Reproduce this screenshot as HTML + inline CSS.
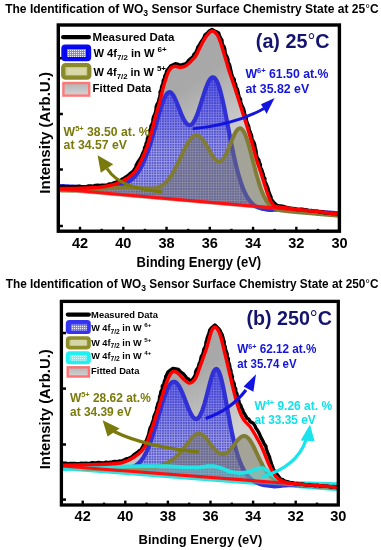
<!DOCTYPE html>
<html><head><meta charset="utf-8"><style>
html,body{margin:0;padding:0;background:#fff;}
svg{display:block;}
text{font-family:"Liberation Sans",Arial,sans-serif;font-weight:bold;}
</style></head><body>
<svg width="381" height="550" viewBox="0 0 381 550">
<defs>
<pattern id="gridA" width="2.6" height="2.6" patternUnits="userSpaceOnUse">
<rect width="2.6" height="2.6" fill="#a0a0ec"/>
<rect x="0.8" y="0.8" width="1.8" height="1.8" fill="#5858c6"/>
</pattern>
<linearGradient id="btA" gradientUnits="userSpaceOnUse" x1="0" y1="80" x2="0" y2="150">
<stop offset="0" stop-color="#1e1ee0" stop-opacity="0.5"/><stop offset="1" stop-color="#1e1ee0" stop-opacity="0"/>
</linearGradient>
<linearGradient id="btB" gradientUnits="userSpaceOnUse" x1="0" y1="370" x2="0" y2="440">
<stop offset="0" stop-color="#1e1ee0" stop-opacity="0.5"/><stop offset="1" stop-color="#1e1ee0" stop-opacity="0"/>
</linearGradient>
<pattern id="dots" width="2" height="2" patternUnits="userSpaceOnUse">
<rect width="2" height="2" fill="#7a7aff"/>
<rect width="1.1" height="1.1" fill="#eeeeff"/>
</pattern>
<pattern id="cdots" width="2" height="2" patternUnits="userSpaceOnUse">
<rect width="2" height="2" fill="#70f0f0"/>
<rect width="1.1" height="1.1" fill="#d8ffff"/>
</pattern>
<linearGradient id="grayg" x1="0" y1="0" x2="0" y2="1">
<stop offset="0" stop-color="#b4b4b4"/><stop offset="1" stop-color="#d4d4d4"/>
</linearGradient>
<linearGradient id="gA" gradientUnits="userSpaceOnUse" x1="212" y1="70" x2="250" y2="125">
<stop offset="0" stop-color="#a8a8a8"/><stop offset="1" stop-color="#d0d0d0"/>
</linearGradient>
<linearGradient id="gB" gradientUnits="userSpaceOnUse" x1="215" y1="360" x2="250" y2="420">
<stop offset="0" stop-color="#a8a8a8"/><stop offset="1" stop-color="#d0d0d0"/>
</linearGradient>
<clipPath id="clipA"><rect x="58.3" y="25" width="281.1" height="206.2"/></clipPath>
<clipPath id="clipB"><rect x="61.4" y="301.4" width="276.9" height="203.6"/></clipPath>
</defs>

<text x="5.2" y="13.4" font-size="12" textLength="373.5" lengthAdjust="spacingAndGlyphs">The Identification of WO<tspan font-size="8.6" dy="3">3</tspan><tspan dy="-3"> Sensor Surface Chemistry State at 25<tspan font-weight="normal">°</tspan>C</tspan></text>
<text x="5.8" y="288.3" font-size="11.9" textLength="372.8" lengthAdjust="spacingAndGlyphs">The Identification of WO<tspan font-size="8.6" dy="3">3</tspan><tspan dy="-3"> Sensor Surface Chemistry State at 250<tspan font-weight="normal">°</tspan>C</tspan></text>
<g clip-path="url(#clipA)"><path d="M58.3 188.6C61.92 188.53 73.05 188.43 80 188.2C86.95 187.97 95 187.65 100 187.2C105 186.75 106.67 186.33 110 185.5C113.33 184.67 117.17 183.37 120 182.2C122.83 181.03 124.55 180.2 127 178.5C129.45 176.8 132.28 175.08 134.7 172C137.12 168.92 139.4 164.33 141.5 160C143.6 155.67 145.67 150.5 147.3 146C148.93 141.5 150.08 137.33 151.3 133C152.52 128.67 153.58 123.83 154.6 120C155.62 116.17 156.57 112.92 157.4 110C158.23 107.08 158.73 105.83 159.6 102.5C160.47 99.17 161.57 93.9 162.6 90C163.63 86.1 164.83 82.13 165.8 79.1C166.77 76.07 167.45 73.72 168.4 71.8C169.35 69.88 170.28 68.52 171.5 67.6C172.72 66.68 174.28 66.35 175.7 66.3C177.12 66.25 178.6 67.23 180 67.3C181.4 67.37 182.72 67.25 184.1 66.7C185.48 66.15 186.9 65.17 188.3 64C189.7 62.83 191.27 61.03 192.5 59.7C193.73 58.37 194.7 57.53 195.7 56C196.7 54.47 197.45 52.58 198.5 50.5C199.55 48.42 200.67 45.92 202 43.5C203.33 41.08 204.83 38.08 206.5 36C208.17 33.92 210.25 31.25 212 31C213.75 30.75 215.67 32.83 217 34.5C218.33 36.17 219.02 38.42 220 41C220.98 43.58 221.92 46.83 222.9 50C223.88 53.17 224.92 56.67 225.9 60C226.88 63.33 227.75 66.67 228.8 70C229.85 73.33 231.08 76.67 232.2 80C233.32 83.33 234.42 86.67 235.5 90C236.58 93.33 237.52 96.25 238.7 100C239.88 103.75 241.28 108.33 242.6 112.5C243.92 116.67 244.92 119.5 246.6 125C248.28 130.5 251 139.58 252.7 145.5C254.4 151.42 255.43 155.97 256.8 160.5C258.17 165.03 259.65 168.83 260.9 172.7C262.15 176.57 263.2 180.23 264.3 183.7C265.4 187.17 266.55 190.78 267.5 193.5C268.45 196.22 269.12 198.22 270 200C270.88 201.78 271.8 203.12 272.8 204.2C273.8 205.28 271.47 205.6 276 206.5C280.53 207.4 292.67 208.7 300 209.6C307.33 210.5 313.43 211.13 320 211.9C326.57 212.67 336.17 213.82 339.4 214.2L339.4 213.62 L58.3 189.03 Z" fill="url(#gA)"/>
<path d="M58.3 185.86L59.3 185.92L60.3 185.98L61.3 186.04L62.3 186.1L63.3 186.15L64.3 186.21L65.3 186.27L66.3 186.32L67.3 186.38L68.3 186.43L69.3 186.48L70.3 186.53L71.3 186.58L72.3 186.63L73.3 186.68L74.3 186.72L75.3 186.77L76.3 186.81L77.3 186.85L78.3 186.89L79.3 186.93L80.3 186.97L81.3 187L82.3 187.04L83.3 187.07L84.3 187.1L85.3 187.13L86.3 187.15L87.3 187.17L88.3 187.19L89.3 187.21L90.3 187.23L91.3 187.24L92.3 187.25L93.3 187.26L94.3 187.26L95.3 187.26L96.3 187.26L97.3 187.25L98.3 187.24L99.3 187.22L100.3 187.2L101.3 187.18L102.3 187.15L103.3 187.11L104.3 187.07L105.3 187.03L106.3 186.97L107.3 186.91L108.3 186.85L109.3 186.77L110.3 186.68L111.3 186.59L112.3 186.48L113.3 186.36L114.3 186.23L115.3 186.08L116.3 185.92L117.3 185.74L118.3 185.53L119.3 185.31L120.3 185.06L121.3 184.78L122.3 184.48L123.3 184.14L124.3 183.76L125.3 183.34L126.3 182.87L127.3 182.36L128.3 181.78L129.3 181.15L130.3 180.46L131.3 179.69L132.3 178.84L133.3 177.91L134.3 176.89L135.3 175.77L136.3 174.55L137.3 173.22L138.3 171.77L139.3 170.21L140.3 168.51L141.3 166.69L142.3 164.73L143.3 162.63L144.3 160.39L145.3 158.01L146.3 155.48L147.3 152.82L148.3 150.01L149.3 147.07L150.3 144L151.3 140.81L152.3 137.51L153.3 134.12L154.3 130.65L155.3 127.13L156.3 123.57L157.3 120.02L158.3 116.49L159.3 113.03L160.3 109.68L161.3 106.48L162.3 103.49L163.3 100.75L164.3 98.32L165.3 96.24L166.3 94.55L167.3 93.3L168.3 92.51L169.3 92.19L170.3 92.34L171.3 92.95L172.3 93.99L173.3 95.42L174.3 97.2L175.3 99.26L176.3 101.54L177.3 103.99L178.3 106.52L179.3 109.09L180.3 111.62L181.3 114.07L182.3 116.37L183.3 118.48L184.3 120.37L185.3 121.98L186.3 123.29L187.3 124.28L188.3 124.91L189.3 125.18L190.3 125.07L191.3 124.58L192.3 123.71L193.3 122.47L194.3 120.87L195.3 118.93L196.3 116.68L197.3 114.15L198.3 111.38L199.3 108.41L200.3 105.32L201.3 102.16L202.3 98.97L203.3 95.79L204.3 92.69L205.3 89.73L206.3 86.96L207.3 84.45L208.3 82.24L209.3 80.39L210.3 78.94L211.3 77.92L212.3 77.38L213.3 77.33L214.3 77.79L215.3 78.76L216.3 80.25L217.3 82.24L218.3 84.72L219.3 87.67L220.3 91.04L221.3 94.81L222.3 98.93L223.3 103.35L224.3 108.03L225.3 112.91L226.3 117.94L227.3 123.07L228.3 128.25L229.3 133.43L230.3 138.57L231.3 143.62L232.3 148.54L233.3 153.32L234.3 157.9L235.3 162.28L236.3 166.43L237.3 170.35L238.3 174.02L239.3 177.43L240.3 180.63L241.3 183.68L242.3 186.49L243.3 189.06L244.3 191.4L245.3 193.53L246.3 195.46L247.3 197.21L248.3 198.78L249.3 200.2L250.3 201.47L251.3 202.62L252.3 203.66L253.3 204.59L254.3 205.43L255.3 206.13L256.3 206.63L257.3 207.06L258.3 207.45L259.3 207.79L260.3 208.09L261.3 208.36L262.3 208.61L263.3 208.83L264.3 209.04L265.3 209.22L266.3 209.4L267.3 209.57L268.3 209.72L269.3 209.87L270.3 209.96L271.3 209.89L272.3 209.83L273.3 209.76L274.3 209.69L275.3 209.61L276.3 209.54L277.3 209.46L278.3 209.38L279.3 209.3L280.3 209.22L281.3 209.14L282.3 209.05L283.3 208.97L284.3 208.88L285.3 208.85L286.3 208.94L287.3 209.04L288.3 209.13L289.3 209.22L290.3 209.32L291.3 209.41L292.3 209.5L293.3 209.59L294.3 209.68L295.3 209.77L296.3 209.86L297.3 209.95L298.3 210.04L299.3 210.12L300.3 210.21L301.3 210.3L302.3 210.39L303.3 210.47L304.3 210.56L305.3 210.64L306.3 210.73L307.3 210.81L308.3 210.9L309.3 210.98L310.3 211.07L311.3 211.15L312.3 211.23L313.3 211.31L314.3 211.4L315.3 211.48L316.3 211.56L317.3 211.64L318.3 211.73L319.3 211.81L320.3 211.89L321.3 211.97L322.3 212.05L323.3 212.13L324.3 212.21L325.3 212.29L326.3 212.37L327.3 212.45L328.3 212.53L329.3 212.61L330.3 212.69L331.3 212.77L332.3 212.85L333.3 212.92L334.3 213L335.3 213.08L336.3 213.16L337.3 213.24L338.3 213.31L339.3 213.39L339.4 214.12L58.3 187.53Z" fill="url(#gridA)"/>
<path d="M58.3 185.86L59.3 185.92L60.3 185.98L61.3 186.04L62.3 186.1L63.3 186.15L64.3 186.21L65.3 186.27L66.3 186.32L67.3 186.38L68.3 186.43L69.3 186.48L70.3 186.53L71.3 186.58L72.3 186.63L73.3 186.68L74.3 186.72L75.3 186.77L76.3 186.81L77.3 186.85L78.3 186.89L79.3 186.93L80.3 186.97L81.3 187L82.3 187.04L83.3 187.07L84.3 187.1L85.3 187.13L86.3 187.15L87.3 187.17L88.3 187.19L89.3 187.21L90.3 187.23L91.3 187.24L92.3 187.25L93.3 187.26L94.3 187.26L95.3 187.26L96.3 187.26L97.3 187.25L98.3 187.24L99.3 187.22L100.3 187.2L101.3 187.18L102.3 187.15L103.3 187.11L104.3 187.07L105.3 187.03L106.3 186.97L107.3 186.91L108.3 186.85L109.3 186.77L110.3 186.68L111.3 186.59L112.3 186.48L113.3 186.36L114.3 186.23L115.3 186.08L116.3 185.92L117.3 185.74L118.3 185.53L119.3 185.31L120.3 185.06L121.3 184.78L122.3 184.48L123.3 184.14L124.3 183.76L125.3 183.34L126.3 182.87L127.3 182.36L128.3 181.78L129.3 181.15L130.3 180.46L131.3 179.69L132.3 178.84L133.3 177.91L134.3 176.89L135.3 175.77L136.3 174.55L137.3 173.22L138.3 171.77L139.3 170.21L140.3 168.51L141.3 166.69L142.3 164.73L143.3 162.63L144.3 160.39L145.3 158.01L146.3 155.48L147.3 152.82L148.3 150.01L149.3 147.07L150.3 144L151.3 140.81L152.3 137.51L153.3 134.12L154.3 130.65L155.3 127.13L156.3 123.57L157.3 120.02L158.3 116.49L159.3 113.03L160.3 109.68L161.3 106.48L162.3 103.49L163.3 100.75L164.3 98.32L165.3 96.24L166.3 94.55L167.3 93.3L168.3 92.51L169.3 92.19L170.3 92.34L171.3 92.95L172.3 93.99L173.3 95.42L174.3 97.2L175.3 99.26L176.3 101.54L177.3 103.99L178.3 106.52L179.3 109.09L180.3 111.62L181.3 114.07L182.3 116.37L183.3 118.48L184.3 120.37L185.3 121.98L186.3 123.29L187.3 124.28L188.3 124.91L189.3 125.18L190.3 125.07L191.3 124.58L192.3 123.71L193.3 122.47L194.3 120.87L195.3 118.93L196.3 116.68L197.3 114.15L198.3 111.38L199.3 108.41L200.3 105.32L201.3 102.16L202.3 98.97L203.3 95.79L204.3 92.69L205.3 89.73L206.3 86.96L207.3 84.45L208.3 82.24L209.3 80.39L210.3 78.94L211.3 77.92L212.3 77.38L213.3 77.33L214.3 77.79L215.3 78.76L216.3 80.25L217.3 82.24L218.3 84.72L219.3 87.67L220.3 91.04L221.3 94.81L222.3 98.93L223.3 103.35L224.3 108.03L225.3 112.91L226.3 117.94L227.3 123.07L228.3 128.25L229.3 133.43L230.3 138.57L231.3 143.62L232.3 148.54L233.3 153.32L234.3 157.9L235.3 162.28L236.3 166.43L237.3 170.35L238.3 174.02L239.3 177.43L240.3 180.63L241.3 183.68L242.3 186.49L243.3 189.06L244.3 191.4L245.3 193.53L246.3 195.46L247.3 197.21L248.3 198.78L249.3 200.2L250.3 201.47L251.3 202.62L252.3 203.66L253.3 204.59L254.3 205.43L255.3 206.13L256.3 206.63L257.3 207.06L258.3 207.45L259.3 207.79L260.3 208.09L261.3 208.36L262.3 208.61L263.3 208.83L264.3 209.04L265.3 209.22L266.3 209.4L267.3 209.57L268.3 209.72L269.3 209.87L270.3 209.96L271.3 209.89L272.3 209.83L273.3 209.76L274.3 209.69L275.3 209.61L276.3 209.54L277.3 209.46L278.3 209.38L279.3 209.3L280.3 209.22L281.3 209.14L282.3 209.05L283.3 208.97L284.3 208.88L285.3 208.85L286.3 208.94L287.3 209.04L288.3 209.13L289.3 209.22L290.3 209.32L291.3 209.41L292.3 209.5L293.3 209.59L294.3 209.68L295.3 209.77L296.3 209.86L297.3 209.95L298.3 210.04L299.3 210.12L300.3 210.21L301.3 210.3L302.3 210.39L303.3 210.47L304.3 210.56L305.3 210.64L306.3 210.73L307.3 210.81L308.3 210.9L309.3 210.98L310.3 211.07L311.3 211.15L312.3 211.23L313.3 211.31L314.3 211.4L315.3 211.48L316.3 211.56L317.3 211.64L318.3 211.73L319.3 211.81L320.3 211.89L321.3 211.97L322.3 212.05L323.3 212.13L324.3 212.21L325.3 212.29L326.3 212.37L327.3 212.45L328.3 212.53L329.3 212.61L330.3 212.69L331.3 212.77L332.3 212.85L333.3 212.92L334.3 213L335.3 213.08L336.3 213.16L337.3 213.24L338.3 213.31L339.3 213.39L339.4 214.12L58.3 187.53Z" fill="url(#btA)"/>
<path d="M58.3 185.86L59.3 185.92L60.3 185.98L61.3 186.04L62.3 186.1L63.3 186.15L64.3 186.21L65.3 186.27L66.3 186.32L67.3 186.38L68.3 186.43L69.3 186.48L70.3 186.53L71.3 186.58L72.3 186.63L73.3 186.68L74.3 186.72L75.3 186.77L76.3 186.81L77.3 186.85L78.3 186.89L79.3 186.93L80.3 186.97L81.3 187L82.3 187.04L83.3 187.07L84.3 187.1L85.3 187.13L86.3 187.15L87.3 187.17L88.3 187.19L89.3 187.21L90.3 187.23L91.3 187.24L92.3 187.25L93.3 187.26L94.3 187.26L95.3 187.26L96.3 187.26L97.3 187.25L98.3 187.24L99.3 187.22L100.3 187.2L101.3 187.18L102.3 187.15L103.3 187.11L104.3 187.07L105.3 187.03L106.3 186.97L107.3 186.91L108.3 186.85L109.3 186.77L110.3 186.68L111.3 186.59L112.3 186.48L113.3 186.36L114.3 186.23L115.3 186.08L116.3 185.92L117.3 185.74L118.3 185.53L119.3 185.31L120.3 185.06L121.3 184.78L122.3 184.48L123.3 184.14L124.3 183.76L125.3 183.34L126.3 182.87L127.3 182.36L128.3 181.78L129.3 181.15L130.3 180.46L131.3 179.69L132.3 178.84L133.3 177.91L134.3 176.89L135.3 175.77L136.3 174.55L137.3 173.22L138.3 171.77L139.3 170.21L140.3 168.51L141.3 166.69L142.3 164.73L143.3 162.63L144.3 160.39L145.3 158.01L146.3 155.48L147.3 152.82L148.3 150.01L149.3 147.07L150.3 144L151.3 140.81L152.3 137.51L153.3 134.12L154.3 130.65L155.3 127.13L156.3 123.57L157.3 120.02L158.3 116.49L159.3 113.03L160.3 109.68L161.3 106.48L162.3 103.49L163.3 100.75L164.3 98.32L165.3 96.24L166.3 94.55L167.3 93.3L168.3 92.51L169.3 92.19L170.3 92.34L171.3 92.95L172.3 93.99L173.3 95.42L174.3 97.2L175.3 99.26L176.3 101.54L177.3 103.99L178.3 106.52L179.3 109.09L180.3 111.62L181.3 114.07L182.3 116.37L183.3 118.48L184.3 120.37L185.3 121.98L186.3 123.29L187.3 124.28L188.3 124.91L189.3 125.18L190.3 125.07L191.3 124.58L192.3 123.71L193.3 122.47L194.3 120.87L195.3 118.93L196.3 116.68L197.3 114.15L198.3 111.38L199.3 108.41L200.3 105.32L201.3 102.16L202.3 98.97L203.3 95.79L204.3 92.69L205.3 89.73L206.3 86.96L207.3 84.45L208.3 82.24L209.3 80.39L210.3 78.94L211.3 77.92L212.3 77.38L213.3 77.33L214.3 77.79L215.3 78.76L216.3 80.25L217.3 82.24L218.3 84.72L219.3 87.67L220.3 91.04L221.3 94.81L222.3 98.93L223.3 103.35L224.3 108.03L225.3 112.91L226.3 117.94L227.3 123.07L228.3 128.25L229.3 133.43L230.3 138.57L231.3 143.62L232.3 148.54L233.3 153.32L234.3 157.9L235.3 162.28L236.3 166.43L237.3 170.35L238.3 174.02L239.3 177.43L240.3 180.63L241.3 183.68L242.3 186.49L243.3 189.06L244.3 191.4L245.3 193.53L246.3 195.46L247.3 197.21L248.3 198.78L249.3 200.2L250.3 201.47L251.3 202.62L252.3 203.66L253.3 204.59L254.3 205.43L255.3 206.13L256.3 206.63L257.3 207.06L258.3 207.45L259.3 207.79L260.3 208.09L261.3 208.36L262.3 208.61L263.3 208.83L264.3 209.04L265.3 209.22L266.3 209.4L267.3 209.57L268.3 209.72L269.3 209.87L270.3 209.96L271.3 209.89L272.3 209.83L273.3 209.76L274.3 209.69L275.3 209.61L276.3 209.54L277.3 209.46L278.3 209.38L279.3 209.3L280.3 209.22L281.3 209.14L282.3 209.05L283.3 208.97L284.3 208.88L285.3 208.85L286.3 208.94L287.3 209.04L288.3 209.13L289.3 209.22L290.3 209.32L291.3 209.41L292.3 209.5L293.3 209.59L294.3 209.68L295.3 209.77L296.3 209.86L297.3 209.95L298.3 210.04L299.3 210.12L300.3 210.21L301.3 210.3L302.3 210.39L303.3 210.47L304.3 210.56L305.3 210.64L306.3 210.73L307.3 210.81L308.3 210.9L309.3 210.98L310.3 211.07L311.3 211.15L312.3 211.23L313.3 211.31L314.3 211.4L315.3 211.48L316.3 211.56L317.3 211.64L318.3 211.73L319.3 211.81L320.3 211.89L321.3 211.97L322.3 212.05L323.3 212.13L324.3 212.21L325.3 212.29L326.3 212.37L327.3 212.45L328.3 212.53L329.3 212.61L330.3 212.69L331.3 212.77L332.3 212.85L333.3 212.92L334.3 213L335.3 213.08L336.3 213.16L337.3 213.24L338.3 213.31L339.3 213.39" fill="none" stroke="#3030d4" stroke-width="4.2"/>
<path d="M58.3 190.3L59.3 190.33L60.3 190.35L61.3 190.38L62.3 190.4L63.3 190.41L64.3 190.43L65.3 190.44L66.3 190.45L67.3 190.45L68.3 190.46L69.3 190.46L70.3 190.45L71.3 190.44L72.3 190.43L73.3 190.41L74.3 190.4L75.3 190.37L76.3 190.35L77.3 190.32L78.3 190.28L79.3 190.25L80.3 190.21L81.3 190.17L82.3 190.12L83.3 190.07L84.3 190.02L85.3 189.96L86.3 189.9L87.3 189.84L88.3 189.78L89.3 189.71L90.3 189.64L91.3 189.57L92.3 189.49L93.3 189.42L94.3 189.34L95.3 189.26L96.3 189.18L97.3 189.1L98.3 189.02L99.3 188.93L100.3 188.85L101.3 188.76L102.3 188.68L103.3 188.6L104.3 188.51L105.3 188.43L106.3 188.35L107.3 188.27L108.3 188.2L109.3 188.12L110.3 188.05L111.3 187.98L112.3 187.91L113.3 187.85L114.3 187.79L115.3 187.73L116.3 187.68L117.3 187.63L118.3 187.59L119.3 187.55L120.3 187.52L121.3 187.49L122.3 187.47L123.3 187.45L124.3 187.44L125.3 187.44L126.3 187.44L127.3 187.45L128.3 187.47L129.3 187.49L130.3 187.52L131.3 187.56L132.3 187.6L133.3 187.65L134.3 187.7L135.3 187.76L136.3 187.82L137.3 187.89L138.3 187.96L139.3 188.04L140.3 188.12L141.3 188.19L142.3 188.27L143.3 188.34L144.3 188.41L145.3 188.48L146.3 188.53L147.3 188.58L148.3 188.61L149.3 188.62L150.3 188.61L151.3 188.58L152.3 188.52L153.3 188.43L154.3 188.29L155.3 188.12L156.3 187.9L157.3 187.63L158.3 187.29L159.3 186.89L160.3 186.43L161.3 185.88L162.3 185.26L163.3 184.55L164.3 183.75L165.3 182.85L166.3 181.86L167.3 180.76L168.3 179.56L169.3 178.25L170.3 176.84L171.3 175.33L172.3 173.72L173.3 172.01L174.3 170.21L175.3 168.32L176.3 166.36L177.3 164.34L178.3 162.27L179.3 160.16L180.3 158.03L181.3 155.89L182.3 153.76L183.3 151.66L184.3 149.61L185.3 147.62L186.3 145.73L187.3 143.94L188.3 142.27L189.3 140.75L190.3 139.39L191.3 138.2L192.3 137.2L193.3 136.41L194.3 135.83L195.3 135.46L196.3 135.32L197.3 135.41L198.3 135.71L199.3 136.24L200.3 136.97L201.3 137.91L202.3 139.03L203.3 140.33L204.3 141.77L205.3 143.33L206.3 145L207.3 146.74L208.3 148.52L209.3 150.31L210.3 152.07L211.3 153.78L212.3 155.4L213.3 156.89L214.3 158.22L215.3 159.36L216.3 160.27L217.3 160.94L218.3 161.33L219.3 161.43L220.3 161.22L221.3 160.7L222.3 159.87L223.3 158.73L224.3 157.29L225.3 155.58L226.3 153.62L227.3 151.46L228.3 149.12L229.3 146.67L230.3 144.15L231.3 141.63L232.3 139.16L233.3 136.81L234.3 134.64L235.3 132.71L236.3 131.07L237.3 129.77L238.3 128.85L239.3 128.36L240.3 128.31L241.3 128.72L242.3 129.59L243.3 130.93L244.3 132.71L245.3 134.9L246.3 137.49L247.3 140.42L248.3 143.65L249.3 147.13L250.3 150.8L251.3 154.61L252.3 158.5L253.3 162.43L254.3 166.33L255.3 170.18L256.3 173.91L257.3 177.5L258.3 180.93L259.3 184.16L260.3 187.18L261.3 189.97L262.3 192.54L263.3 194.88L264.3 197L265.3 198.89L266.3 200.58L267.3 202.07L268.3 203.38L269.3 204.53L270.3 205.52L271.3 206.38L272.3 207.11L273.3 207.75L274.3 208.28L275.3 208.74L276.3 209.14L277.3 209.47L278.3 209.76L279.3 210.01L280.3 210.22L281.3 210.41L282.3 210.57L283.3 210.72L284.3 210.86L285.3 210.98L286.3 211.1L287.3 211.2L288.3 211.31L289.3 211.41L290.3 211.5L291.3 211.6L292.3 211.69L293.3 211.78L294.3 211.87L295.3 211.96L296.3 212.05L297.3 212.14L298.3 212.22L299.3 212.31L300.3 212.4L301.3 212.49L302.3 212.58L303.3 212.66L304.3 212.75L305.3 212.84L306.3 212.93L307.3 213.01L308.3 213.1L309.3 213.19L310.3 213.28L311.3 213.36L312.3 213.45L313.3 213.54L314.3 213.63L315.3 213.71L316.3 213.8L317.3 213.89L318.3 213.98L319.3 214.06L320.3 214.15L321.3 214.24L322.3 214.33L323.3 214.41L324.3 214.5L325.3 214.59L326.3 214.68L327.3 214.76L328.3 214.85L329.3 214.94L330.3 215.03L331.3 215.11L332.3 215.2L333.3 215.29L334.3 215.38L335.3 215.46L336.3 215.55L337.3 215.64L338.3 215.73L339.3 215.81L339.4 215.82L58.3 191.23Z" fill="rgba(118,118,96,0.5)"/>
<path d="M58.3 190.3L59.3 190.33L60.3 190.35L61.3 190.38L62.3 190.4L63.3 190.41L64.3 190.43L65.3 190.44L66.3 190.45L67.3 190.45L68.3 190.46L69.3 190.46L70.3 190.45L71.3 190.44L72.3 190.43L73.3 190.41L74.3 190.4L75.3 190.37L76.3 190.35L77.3 190.32L78.3 190.28L79.3 190.25L80.3 190.21L81.3 190.17L82.3 190.12L83.3 190.07L84.3 190.02L85.3 189.96L86.3 189.9L87.3 189.84L88.3 189.78L89.3 189.71L90.3 189.64L91.3 189.57L92.3 189.49L93.3 189.42L94.3 189.34L95.3 189.26L96.3 189.18L97.3 189.1L98.3 189.02L99.3 188.93L100.3 188.85L101.3 188.76L102.3 188.68L103.3 188.6L104.3 188.51L105.3 188.43L106.3 188.35L107.3 188.27L108.3 188.2L109.3 188.12L110.3 188.05L111.3 187.98L112.3 187.91L113.3 187.85L114.3 187.79L115.3 187.73L116.3 187.68L117.3 187.63L118.3 187.59L119.3 187.55L120.3 187.52L121.3 187.49L122.3 187.47L123.3 187.45L124.3 187.44L125.3 187.44L126.3 187.44L127.3 187.45L128.3 187.47L129.3 187.49L130.3 187.52L131.3 187.56L132.3 187.6L133.3 187.65L134.3 187.7L135.3 187.76L136.3 187.82L137.3 187.89L138.3 187.96L139.3 188.04L140.3 188.12L141.3 188.19L142.3 188.27L143.3 188.34L144.3 188.41L145.3 188.48L146.3 188.53L147.3 188.58L148.3 188.61L149.3 188.62L150.3 188.61L151.3 188.58L152.3 188.52L153.3 188.43L154.3 188.29L155.3 188.12L156.3 187.9L157.3 187.63L158.3 187.29L159.3 186.89L160.3 186.43L161.3 185.88L162.3 185.26L163.3 184.55L164.3 183.75L165.3 182.85L166.3 181.86L167.3 180.76L168.3 179.56L169.3 178.25L170.3 176.84L171.3 175.33L172.3 173.72L173.3 172.01L174.3 170.21L175.3 168.32L176.3 166.36L177.3 164.34L178.3 162.27L179.3 160.16L180.3 158.03L181.3 155.89L182.3 153.76L183.3 151.66L184.3 149.61L185.3 147.62L186.3 145.73L187.3 143.94L188.3 142.27L189.3 140.75L190.3 139.39L191.3 138.2L192.3 137.2L193.3 136.41L194.3 135.83L195.3 135.46L196.3 135.32L197.3 135.41L198.3 135.71L199.3 136.24L200.3 136.97L201.3 137.91L202.3 139.03L203.3 140.33L204.3 141.77L205.3 143.33L206.3 145L207.3 146.74L208.3 148.52L209.3 150.31L210.3 152.07L211.3 153.78L212.3 155.4L213.3 156.89L214.3 158.22L215.3 159.36L216.3 160.27L217.3 160.94L218.3 161.33L219.3 161.43L220.3 161.22L221.3 160.7L222.3 159.87L223.3 158.73L224.3 157.29L225.3 155.58L226.3 153.62L227.3 151.46L228.3 149.12L229.3 146.67L230.3 144.15L231.3 141.63L232.3 139.16L233.3 136.81L234.3 134.64L235.3 132.71L236.3 131.07L237.3 129.77L238.3 128.85L239.3 128.36L240.3 128.31L241.3 128.72L242.3 129.59L243.3 130.93L244.3 132.71L245.3 134.9L246.3 137.49L247.3 140.42L248.3 143.65L249.3 147.13L250.3 150.8L251.3 154.61L252.3 158.5L253.3 162.43L254.3 166.33L255.3 170.18L256.3 173.91L257.3 177.5L258.3 180.93L259.3 184.16L260.3 187.18L261.3 189.97L262.3 192.54L263.3 194.88L264.3 197L265.3 198.89L266.3 200.58L267.3 202.07L268.3 203.38L269.3 204.53L270.3 205.52L271.3 206.38L272.3 207.11L273.3 207.75L274.3 208.28L275.3 208.74L276.3 209.14L277.3 209.47L278.3 209.76L279.3 210.01L280.3 210.22L281.3 210.41L282.3 210.57L283.3 210.72L284.3 210.86L285.3 210.98L286.3 211.1L287.3 211.2L288.3 211.31L289.3 211.41L290.3 211.5L291.3 211.6L292.3 211.69L293.3 211.78L294.3 211.87L295.3 211.96L296.3 212.05L297.3 212.14L298.3 212.22L299.3 212.31L300.3 212.4L301.3 212.49L302.3 212.58L303.3 212.66L304.3 212.75L305.3 212.84L306.3 212.93L307.3 213.01L308.3 213.1L309.3 213.19L310.3 213.28L311.3 213.36L312.3 213.45L313.3 213.54L314.3 213.63L315.3 213.71L316.3 213.8L317.3 213.89L318.3 213.98L319.3 214.06L320.3 214.15L321.3 214.24L322.3 214.33L323.3 214.41L324.3 214.5L325.3 214.59L326.3 214.68L327.3 214.76L328.3 214.85L329.3 214.94L330.3 215.03L331.3 215.11L332.3 215.2L333.3 215.29L334.3 215.38L335.3 215.46L336.3 215.55L337.3 215.64L338.3 215.73L339.3 215.81" fill="none" stroke="#807c36" stroke-width="4"/>
<path d="M58.3 189.03 L339.4 213.62" stroke="#ff1010" stroke-width="3.2"/>
<path d="M58.3 187.05L60.68 186.9L63.08 186.49L65.5 186.9L67.91 186.81L70.32 186.69L72.74 187.05L75.15 186.68L77.56 186.51L79.94 186.31L82.16 186.9L84.37 186.58L86.61 186.68L88.79 185.85L91.02 185.85L93.28 186.39L95.45 185.34L97.67 185.25L99.8 185.46L102.21 185.08L104.79 185.11L107.31 184.83L109.61 183.92L112.14 183.57L114.6 182.62L117.08 181.75L119.56 181.16L121.6 179.58L123.95 178.37L125.92 176.89L127.88 175.64L129.73 173.92L131.74 172.4L133.35 170.86L134.48 169.23L135.77 167.32L136.27 164.97L137.41 162.97L138.68 161.04L139.87 159.21L141.16 157.12L142.2 154.82L143.12 152.47L144.29 150.22L144.61 147.62L145.89 145.49L146.11 143.26L147.21 141.23L147.33 138.89L148.11 136.76L149.58 134.84L150.04 132.65L149.9 130.34L150.88 128.28L150.93 125.99L152.05 123.96L152.91 121.88L152.93 119.55L153.49 116.99L154.68 114.63L155.56 112.18L156.02 109.61L156.15 106.92L157.08 104.48L158.42 102.19L158.88 99.68L159.6 97.21L160.22 94.72L160.08 92.04L161.26 89.65L161.52 87.32L162.25 85.16L163.11 83.05L163.2 80.71L164.41 78.65L164.77 75.99L166.1 73.72L166.76 70.93L168.57 68.68L170.57 66.02L175.37 63.66L178.41 64.41L179.97 65.38L183.37 64.37L185.26 63.89L187.1 62.55L188.75 60.24L190.99 58.3L192.97 56.87L193.72 54.71L195.71 52.54L197.09 49.79L197.81 47.24L199.38 45.11L200.61 42.73L202.33 40.3L203.82 37.79L205.04 34.84L207.31 33.21L208.91 31.28L212.03 29.36L215.48 31.35L218.65 33.03L219.57 35.94L220.65 38.07L221.96 40.23L222.08 42.81L222.78 45.07L224.22 47.09L224.86 49.39L225.07 52.07L225.76 54.59L227.03 56.93L227.98 59.39L227.99 62.1L229.44 64.4L230.09 66.91L230.54 69.45L231.2 71.97L231.75 74.58L232.53 77.1L234.26 79.31L234.4 82.05L235.66 84.4L236.06 87.04L237.42 89.37L238.01 91.95L238.52 94.55L239.2 97.08L240.52 99.42L240.68 102.13L241.61 104.58L242.7 106.98L243.76 109.39L244.31 111.96L244.79 114.56L246.19 116.86L246.31 119.58L246.93 122.14L247.97 124.58L248.82 126.82L249.13 129.21L249.92 131.45L250.78 133.68L251.65 135.9L251.9 138.3L252.8 140.51L253.98 142.64L254.75 144.91L255.03 147.17L255.64 149.3L256.12 151.47L256.28 153.73L256.76 155.9L257.33 158.05L258.76 159.9L259.36 162.36L260.43 164.71L260.35 167.45L261.75 169.7L262.43 172.21L263.35 174.35L263.64 176.67L264.97 178.67L264.76 181.15L265.88 183.2L266.86 185.58L267.81 187.98L268.46 190.48L269.21 192.9L270.1 194.99L271.05 197.11L271.29 199.33L272.8 201.16L274.05 202.9L276.66 205.09L278.52 205.89L280.95 205.99L283.33 206.4L285.67 207.16L288.06 207.59L290.41 208.28L292.83 208.4L295.24 208.69L297.57 209.54L300.04 209.3L302.3 209.22L304.5 209.59L306.71 210.01L308.89 210.61L311.15 210.53L313.35 210.95L315.56 211.35L317.83 211.22L319.96 212.23L322.46 211.87L324.8 212.88L327.29 212.61L329.7 213.03L332.1 213.57L334.58 213.41L336.98 213.9L339.4 214.08" fill="none" stroke="#000" stroke-width="3.4" stroke-linejoin="round"/>
<path d="M58.3 188.6C61.92 188.53 73.05 188.43 80 188.2C86.95 187.97 95 187.65 100 187.2C105 186.75 106.67 186.33 110 185.5C113.33 184.67 117.17 183.37 120 182.2C122.83 181.03 124.55 180.2 127 178.5C129.45 176.8 132.28 175.08 134.7 172C137.12 168.92 139.4 164.33 141.5 160C143.6 155.67 145.67 150.5 147.3 146C148.93 141.5 150.08 137.33 151.3 133C152.52 128.67 153.58 123.83 154.6 120C155.62 116.17 156.57 112.92 157.4 110C158.23 107.08 158.73 105.83 159.6 102.5C160.47 99.17 161.57 93.9 162.6 90C163.63 86.1 164.83 82.13 165.8 79.1C166.77 76.07 167.45 73.72 168.4 71.8C169.35 69.88 170.28 68.52 171.5 67.6C172.72 66.68 174.28 66.35 175.7 66.3C177.12 66.25 178.6 67.23 180 67.3C181.4 67.37 182.72 67.25 184.1 66.7C185.48 66.15 186.9 65.17 188.3 64C189.7 62.83 191.27 61.03 192.5 59.7C193.73 58.37 194.7 57.53 195.7 56C196.7 54.47 197.45 52.58 198.5 50.5C199.55 48.42 200.67 45.92 202 43.5C203.33 41.08 204.83 38.08 206.5 36C208.17 33.92 210.25 31.25 212 31C213.75 30.75 215.67 32.83 217 34.5C218.33 36.17 219.02 38.42 220 41C220.98 43.58 221.92 46.83 222.9 50C223.88 53.17 224.92 56.67 225.9 60C226.88 63.33 227.75 66.67 228.8 70C229.85 73.33 231.08 76.67 232.2 80C233.32 83.33 234.42 86.67 235.5 90C236.58 93.33 237.52 96.25 238.7 100C239.88 103.75 241.28 108.33 242.6 112.5C243.92 116.67 244.92 119.5 246.6 125C248.28 130.5 251 139.58 252.7 145.5C254.4 151.42 255.43 155.97 256.8 160.5C258.17 165.03 259.65 168.83 260.9 172.7C262.15 176.57 263.2 180.23 264.3 183.7C265.4 187.17 266.55 190.78 267.5 193.5C268.45 196.22 269.12 198.22 270 200C270.88 201.78 271.8 203.12 272.8 204.2C273.8 205.28 271.47 205.6 276 206.5C280.53 207.4 292.67 208.7 300 209.6C307.33 210.5 313.43 211.13 320 211.9C326.57 212.67 336.17 213.82 339.4 214.2" fill="none" stroke="#ff0000" stroke-width="3.4" stroke-linejoin="round"/></g>
<rect x="58.3" y="25" width="281.1" height="206.2" fill="none" stroke="#000" stroke-width="3.4"/>
<rect x="78.83" y="226.8" width="2.4" height="4.4"/>
<rect x="100.46" y="228.8" width="2.4" height="2.4"/>
<rect x="122.09" y="226.8" width="2.4" height="4.4"/>
<rect x="143.72" y="228.8" width="2.4" height="2.4"/>
<rect x="165.35" y="226.8" width="2.4" height="4.4"/>
<rect x="186.98" y="228.8" width="2.4" height="2.4"/>
<rect x="208.61" y="226.8" width="2.4" height="4.4"/>
<rect x="230.24" y="228.8" width="2.4" height="2.4"/>
<rect x="251.87" y="226.8" width="2.4" height="4.4"/>
<rect x="273.5" y="228.8" width="2.4" height="2.4"/>
<rect x="295.13" y="226.8" width="2.4" height="4.4"/>
<rect x="316.76" y="228.8" width="2.4" height="2.4"/>
<rect x="58.3" y="56.95" width="4.6" height="2.5"/>
<rect x="58.3" y="112.75" width="4.6" height="2.5"/>
<rect x="58.3" y="168.25" width="4.6" height="2.5"/>
<rect x="58.3" y="224.75" width="4.6" height="2.5"/>
<text x="80.03" y="248.1" font-size="13.9" textLength="16.2" lengthAdjust="spacingAndGlyphs" text-anchor="middle">42</text>
<text x="123.29" y="248.1" font-size="13.9" textLength="16.2" lengthAdjust="spacingAndGlyphs" text-anchor="middle">40</text>
<text x="166.55" y="248.1" font-size="13.9" textLength="16.2" lengthAdjust="spacingAndGlyphs" text-anchor="middle">38</text>
<text x="209.81" y="248.1" font-size="13.9" textLength="16.2" lengthAdjust="spacingAndGlyphs" text-anchor="middle">36</text>
<text x="253.07" y="248.1" font-size="13.9" textLength="16.2" lengthAdjust="spacingAndGlyphs" text-anchor="middle">34</text>
<text x="296.33" y="248.1" font-size="13.9" textLength="16.2" lengthAdjust="spacingAndGlyphs" text-anchor="middle">32</text>
<text x="339.59" y="248.1" font-size="13.9" textLength="16.2" lengthAdjust="spacingAndGlyphs" text-anchor="middle">30</text>
<text x="136.6" y="266.7" font-size="14" textLength="124.6" lengthAdjust="spacingAndGlyphs">Binding Energy (eV)</text>
<text x="49.8" y="193.8" font-size="14.2" textLength="121.8" lengthAdjust="spacingAndGlyphs" transform="rotate(-90 49.8 193.8)">Intensity (Arb.U.)</text>
<path d="M63.2 37.1 L88.8 37.1" stroke="#000" stroke-width="4.4" stroke-linecap="round"/>
<rect x="62.8" y="45.9" width="26.9" height="13.9" rx="2.5" fill="#0000f4" stroke="#0a0af0" stroke-width="3"/>
<rect x="67" y="49" width="19" height="8" fill="url(#dots)"/>
<rect x="63.2" y="65" width="26.1" height="12.7" rx="2.5" fill="#c9c98e" stroke="#8a8a2c" stroke-width="4.2"/>
<rect x="67.2" y="68.3" width="18.6" height="6.6" fill="#d8d8a8"/>
<rect x="63.4" y="83" width="25.8" height="12.6" fill="url(#grayg)" stroke="#ff7878" stroke-width="2.4"/>
<text x="92.6" y="41.1" font-size="11" textLength="81.9" lengthAdjust="spacingAndGlyphs">Measured Data</text>
<text x="93.4" y="56.9" font-size="10.8" textLength="73.4" lengthAdjust="spacingAndGlyphs">W 4f<tspan font-size="7.6" dy="3.2">7/2</tspan><tspan dy="-3.2"> in W </tspan><tspan font-size="7.8" dy="-4.8">6+</tspan></text>
<text x="93.4" y="75.6" font-size="10.8" textLength="72.6" lengthAdjust="spacingAndGlyphs">W 4f<tspan font-size="7.6" dy="3.2">7/2</tspan><tspan dy="-3.2"> in W </tspan><tspan font-size="7.8" dy="-4.8">5+</tspan></text>
<text x="92.6" y="92.1" font-size="11" textLength="58.8" lengthAdjust="spacingAndGlyphs">Fitted Data</text>
<text x="255.8" y="47.5" font-size="19.6" textLength="73.8" lengthAdjust="spacingAndGlyphs" fill="#141470">(a) 25<tspan font-weight="normal">°</tspan>C</text>
<text x="245.4" y="77.8" font-size="12.1" textLength="83" lengthAdjust="spacingAndGlyphs" fill="#1414dc">W<tspan font-size="7.4" dy="-4.4">6+</tspan><tspan dy="4.4"> 61.50 at.%</tspan></text>
<text x="245.4" y="92.5" font-size="12.1" textLength="63.8" lengthAdjust="spacingAndGlyphs" fill="#1414dc">at 35.82 eV</text>
<text x="63.6" y="135.6" font-size="12.1" textLength="86" lengthAdjust="spacingAndGlyphs" fill="#7a7a0c">W<tspan font-size="7.4" dy="-4.4">5+</tspan><tspan dy="4.4"> 38.50 at. %</tspan></text>
<text x="63.6" y="149.1" font-size="12.1" textLength="63.4" lengthAdjust="spacingAndGlyphs" fill="#7a7a0c">at 34.57 eV</text>
<path d="M192.6 128.8 C222 126 247 118 264 108.5" fill="none" stroke="#1414e0" stroke-width="2.8"/><path d="M274.6 98L261 104.2L266.6 113.8Z" fill="#1414e0"/>
<path d="M162.2 191.8 C135 189 117 184 107 168.5" fill="none" stroke="#7a7a0c" stroke-width="3.2"/><path d="M97.6 155.2L100.8 172.8L113.2 164.2Z" fill="#7a7a0c"/>
<g clip-path="url(#clipB)"><path d="M61.4 465.3C66.17 465.18 81.9 464.82 90 464.6C98.1 464.38 104.57 464.35 110 464C115.43 463.65 118.75 463.55 122.6 462.5C126.45 461.45 129.9 459.63 133.1 457.7C136.3 455.77 139.43 453.55 141.8 450.9C144.17 448.25 145.75 445.12 147.3 441.8C148.85 438.48 149.93 434.38 151.1 431C152.27 427.62 153.32 424.5 154.3 421.5C155.28 418.5 156.08 415.92 157 413C157.92 410.08 158.88 407 159.8 404C160.72 401 161.63 397.83 162.5 395C163.37 392.17 164.17 389.5 165 387C165.83 384.5 166.58 382.17 167.5 380C168.42 377.83 169.48 375.42 170.5 374C171.52 372.58 172.52 371.75 173.6 371.5C174.68 371.25 175.82 371.75 177 372.5C178.18 373.25 179.37 374.67 180.7 376C182.03 377.33 183.62 379.33 185 380.5C186.38 381.67 187.75 382.75 189 383C190.25 383.25 191.32 382.95 192.5 382C193.68 381.05 194.72 380.25 196.1 377.3C197.48 374.35 199.03 369.22 200.8 364.3C202.57 359.38 204.93 353.3 206.7 347.8C208.47 342.3 210.02 334.77 211.4 331.3C212.78 327.83 213.82 327.05 215 327C216.18 326.95 217.5 329.25 218.5 331C219.5 332.75 220 334 221 337.5C222 341 223.33 347.17 224.5 352C225.67 356.83 226.92 361.92 228 366.5C229.08 371.08 230 375.25 231 379.5C232 383.75 232.97 387.92 234 392C235.03 396.08 236.12 400.42 237.2 404C238.28 407.58 239.37 410.83 240.5 413.5C241.63 416.17 242.83 418.25 244 420C245.17 421.75 246.5 422.92 247.5 424C248.5 425.08 248.75 424.75 250 426.5C251.25 428.25 253.33 431.67 255 434.5C256.67 437.33 258.67 440.92 260 443.5C261.33 446.08 262.12 448 263 450C263.88 452 264.38 453.25 265.3 455.5C266.22 457.75 267.42 461.08 268.5 463.5C269.58 465.92 270.63 467.92 271.8 470C272.97 472.08 274.13 474.33 275.5 476C276.87 477.67 278.08 478.9 280 480C281.92 481.1 283.67 481.9 287 482.6C290.33 483.3 294.5 483.68 300 484.2C305.5 484.72 313.62 485.2 320 485.7C326.38 486.2 335.25 486.95 338.3 487.2L338.3 487.18 L61.4 466 Z" fill="url(#gB)"/>
<path d="M61.4 468.9 L338.3 490.08" stroke="#20e8e8" stroke-width="2.4"/>
<path d="M61.4 464.52L62.4 464.59L63.4 464.67L64.4 464.74L65.4 464.82L66.4 464.89L67.4 464.97L68.4 465.04L69.4 465.12L70.4 465.19L71.4 465.27L72.4 465.34L73.4 465.42L74.4 465.49L75.4 465.57L76.4 465.64L77.4 465.72L78.4 465.79L79.4 465.87L80.4 465.94L81.4 466.01L82.4 466.09L83.4 466.16L84.4 466.23L85.4 466.31L86.4 466.38L87.4 466.45L88.4 466.53L89.4 466.6L90.4 466.67L91.4 466.75L92.4 466.82L93.4 466.89L94.4 466.96L95.4 467.03L96.4 467.11L97.4 467.18L98.4 467.25L99.4 467.32L100.4 467.39L101.4 467.46L102.4 467.53L103.4 467.6L104.4 467.67L105.4 467.74L106.4 467.81L107.4 467.87L108.4 467.94L109.4 468.01L110.4 468.07L111.4 468.13L112.4 468.19L113.4 468.25L114.4 468.31L115.4 468.36L116.4 468.41L117.4 468.45L118.4 468.49L119.4 468.52L120.4 468.54L121.4 468.55L122.4 468.54L123.4 468.53L124.4 468.49L125.4 468.43L126.4 468.35L127.4 468.24L128.4 468.1L129.4 467.92L130.4 467.69L131.4 467.42L132.4 467.09L133.4 466.69L134.4 466.23L135.4 465.68L136.4 465.04L137.4 464.31L138.4 463.47L139.4 462.51L140.4 461.43L141.4 460.22L142.4 458.86L143.4 457.35L144.4 455.69L145.4 453.86L146.4 451.87L147.4 449.71L148.4 447.38L149.4 444.89L150.4 442.23L151.4 439.41L152.4 436.45L153.4 433.36L154.4 430.15L155.4 426.84L156.4 423.44L157.4 420L158.4 416.52L159.4 413.05L160.4 409.61L161.4 406.23L162.4 402.94L163.4 399.78L164.4 396.79L165.4 393.99L166.4 391.41L167.4 389.09L168.4 387.05L169.4 385.31L170.4 383.9L171.4 382.83L172.4 382.11L173.4 381.75L174.4 381.75L175.4 382.1L176.4 382.8L177.4 383.84L178.4 385.18L179.4 386.81L180.4 388.7L181.4 390.82L182.4 393.12L183.4 395.57L184.4 398.11L185.4 400.71L186.4 403.32L187.4 405.88L188.4 408.35L189.4 410.68L190.4 412.8L191.4 414.69L192.4 416.29L193.4 417.56L194.4 418.47L195.4 418.97L196.4 419.05L197.4 418.69L198.4 417.86L199.4 416.58L200.4 414.86L201.4 412.74L202.4 410.19L203.4 407.26L204.4 404L205.4 400.45L206.4 396.69L207.4 392.79L208.4 388.85L209.4 384.96L210.4 381.24L211.4 377.8L212.4 374.76L213.4 372.26L214.4 370.38L215.4 369.25L216.4 368.91L217.4 369.42L218.4 370.77L219.4 372.93L220.4 375.85L221.4 379.44L222.4 383.6L223.4 388.22L224.4 393.18L225.4 398.39L226.4 403.75L227.4 409.17L228.4 414.57L229.4 419.89L230.4 425.06L231.4 430.04L232.4 434.79L233.4 439.29L234.4 443.5L235.4 447.42L236.4 451.04L237.4 454.35L238.4 457.38L239.4 460.11L240.4 462.67L241.4 465.1L242.4 467.3L243.4 469.28L244.4 471.05L245.4 472.65L246.4 474.08L247.4 475.38L248.4 476.54L249.4 477.6L250.4 478.56L251.4 479.45L252.4 480.2L253.4 480.82L254.4 481.38L255.4 481.91L256.4 482.39L257.4 482.85L258.4 483.29L259.4 483.7L260.4 484.09L261.4 484.47L262.4 484.77L263.4 484.93L264.4 485.09L265.4 485.24L266.4 485.38L267.4 485.52L268.4 485.65L269.4 485.78L270.4 485.9L271.4 486.01L272.4 486.13L273.4 486.23L274.4 486.34L275.4 486.36L276.4 486.27L277.4 486.17L278.4 486.07L279.4 485.96L280.4 485.85L281.4 485.75L282.4 485.64L283.4 485.52L284.4 485.41L285.4 485.29L286.4 485.17L287.4 485.05L288.4 484.93L289.4 484.81L290.4 484.76L291.4 484.83L292.4 484.9L293.4 484.96L294.4 485.03L295.4 485.09L296.4 485.15L297.4 485.21L298.4 485.27L299.4 485.33L300.4 485.39L301.4 485.44L302.4 485.5L303.4 485.56L304.4 485.61L305.4 485.67L306.4 485.72L307.4 485.77L308.4 485.82L309.4 485.88L310.4 485.93L311.4 485.98L312.4 486.03L313.4 486.08L314.4 486.13L315.4 486.18L316.4 486.23L317.4 486.28L318.4 486.32L319.4 486.37L320.4 486.42L321.4 486.47L322.4 486.51L323.4 486.56L324.4 486.61L325.4 486.65L326.4 486.7L327.4 486.74L328.4 486.79L329.4 486.83L330.4 486.88L331.4 486.92L332.4 486.96L333.4 487.01L334.4 487.05L335.4 487.09L336.4 487.14L337.4 487.18L338.3 487.68L61.4 464.8Z" fill="url(#gridA)"/>
<path d="M61.4 464.52L62.4 464.59L63.4 464.67L64.4 464.74L65.4 464.82L66.4 464.89L67.4 464.97L68.4 465.04L69.4 465.12L70.4 465.19L71.4 465.27L72.4 465.34L73.4 465.42L74.4 465.49L75.4 465.57L76.4 465.64L77.4 465.72L78.4 465.79L79.4 465.87L80.4 465.94L81.4 466.01L82.4 466.09L83.4 466.16L84.4 466.23L85.4 466.31L86.4 466.38L87.4 466.45L88.4 466.53L89.4 466.6L90.4 466.67L91.4 466.75L92.4 466.82L93.4 466.89L94.4 466.96L95.4 467.03L96.4 467.11L97.4 467.18L98.4 467.25L99.4 467.32L100.4 467.39L101.4 467.46L102.4 467.53L103.4 467.6L104.4 467.67L105.4 467.74L106.4 467.81L107.4 467.87L108.4 467.94L109.4 468.01L110.4 468.07L111.4 468.13L112.4 468.19L113.4 468.25L114.4 468.31L115.4 468.36L116.4 468.41L117.4 468.45L118.4 468.49L119.4 468.52L120.4 468.54L121.4 468.55L122.4 468.54L123.4 468.53L124.4 468.49L125.4 468.43L126.4 468.35L127.4 468.24L128.4 468.1L129.4 467.92L130.4 467.69L131.4 467.42L132.4 467.09L133.4 466.69L134.4 466.23L135.4 465.68L136.4 465.04L137.4 464.31L138.4 463.47L139.4 462.51L140.4 461.43L141.4 460.22L142.4 458.86L143.4 457.35L144.4 455.69L145.4 453.86L146.4 451.87L147.4 449.71L148.4 447.38L149.4 444.89L150.4 442.23L151.4 439.41L152.4 436.45L153.4 433.36L154.4 430.15L155.4 426.84L156.4 423.44L157.4 420L158.4 416.52L159.4 413.05L160.4 409.61L161.4 406.23L162.4 402.94L163.4 399.78L164.4 396.79L165.4 393.99L166.4 391.41L167.4 389.09L168.4 387.05L169.4 385.31L170.4 383.9L171.4 382.83L172.4 382.11L173.4 381.75L174.4 381.75L175.4 382.1L176.4 382.8L177.4 383.84L178.4 385.18L179.4 386.81L180.4 388.7L181.4 390.82L182.4 393.12L183.4 395.57L184.4 398.11L185.4 400.71L186.4 403.32L187.4 405.88L188.4 408.35L189.4 410.68L190.4 412.8L191.4 414.69L192.4 416.29L193.4 417.56L194.4 418.47L195.4 418.97L196.4 419.05L197.4 418.69L198.4 417.86L199.4 416.58L200.4 414.86L201.4 412.74L202.4 410.19L203.4 407.26L204.4 404L205.4 400.45L206.4 396.69L207.4 392.79L208.4 388.85L209.4 384.96L210.4 381.24L211.4 377.8L212.4 374.76L213.4 372.26L214.4 370.38L215.4 369.25L216.4 368.91L217.4 369.42L218.4 370.77L219.4 372.93L220.4 375.85L221.4 379.44L222.4 383.6L223.4 388.22L224.4 393.18L225.4 398.39L226.4 403.75L227.4 409.17L228.4 414.57L229.4 419.89L230.4 425.06L231.4 430.04L232.4 434.79L233.4 439.29L234.4 443.5L235.4 447.42L236.4 451.04L237.4 454.35L238.4 457.38L239.4 460.11L240.4 462.67L241.4 465.1L242.4 467.3L243.4 469.28L244.4 471.05L245.4 472.65L246.4 474.08L247.4 475.38L248.4 476.54L249.4 477.6L250.4 478.56L251.4 479.45L252.4 480.2L253.4 480.82L254.4 481.38L255.4 481.91L256.4 482.39L257.4 482.85L258.4 483.29L259.4 483.7L260.4 484.09L261.4 484.47L262.4 484.77L263.4 484.93L264.4 485.09L265.4 485.24L266.4 485.38L267.4 485.52L268.4 485.65L269.4 485.78L270.4 485.9L271.4 486.01L272.4 486.13L273.4 486.23L274.4 486.34L275.4 486.36L276.4 486.27L277.4 486.17L278.4 486.07L279.4 485.96L280.4 485.85L281.4 485.75L282.4 485.64L283.4 485.52L284.4 485.41L285.4 485.29L286.4 485.17L287.4 485.05L288.4 484.93L289.4 484.81L290.4 484.76L291.4 484.83L292.4 484.9L293.4 484.96L294.4 485.03L295.4 485.09L296.4 485.15L297.4 485.21L298.4 485.27L299.4 485.33L300.4 485.39L301.4 485.44L302.4 485.5L303.4 485.56L304.4 485.61L305.4 485.67L306.4 485.72L307.4 485.77L308.4 485.82L309.4 485.88L310.4 485.93L311.4 485.98L312.4 486.03L313.4 486.08L314.4 486.13L315.4 486.18L316.4 486.23L317.4 486.28L318.4 486.32L319.4 486.37L320.4 486.42L321.4 486.47L322.4 486.51L323.4 486.56L324.4 486.61L325.4 486.65L326.4 486.7L327.4 486.74L328.4 486.79L329.4 486.83L330.4 486.88L331.4 486.92L332.4 486.96L333.4 487.01L334.4 487.05L335.4 487.09L336.4 487.14L337.4 487.18L338.3 487.68L61.4 464.8Z" fill="url(#btB)"/>
<path d="M61.4 464.52L62.4 464.59L63.4 464.67L64.4 464.74L65.4 464.82L66.4 464.89L67.4 464.97L68.4 465.04L69.4 465.12L70.4 465.19L71.4 465.27L72.4 465.34L73.4 465.42L74.4 465.49L75.4 465.57L76.4 465.64L77.4 465.72L78.4 465.79L79.4 465.87L80.4 465.94L81.4 466.01L82.4 466.09L83.4 466.16L84.4 466.23L85.4 466.31L86.4 466.38L87.4 466.45L88.4 466.53L89.4 466.6L90.4 466.67L91.4 466.75L92.4 466.82L93.4 466.89L94.4 466.96L95.4 467.03L96.4 467.11L97.4 467.18L98.4 467.25L99.4 467.32L100.4 467.39L101.4 467.46L102.4 467.53L103.4 467.6L104.4 467.67L105.4 467.74L106.4 467.81L107.4 467.87L108.4 467.94L109.4 468.01L110.4 468.07L111.4 468.13L112.4 468.19L113.4 468.25L114.4 468.31L115.4 468.36L116.4 468.41L117.4 468.45L118.4 468.49L119.4 468.52L120.4 468.54L121.4 468.55L122.4 468.54L123.4 468.53L124.4 468.49L125.4 468.43L126.4 468.35L127.4 468.24L128.4 468.1L129.4 467.92L130.4 467.69L131.4 467.42L132.4 467.09L133.4 466.69L134.4 466.23L135.4 465.68L136.4 465.04L137.4 464.31L138.4 463.47L139.4 462.51L140.4 461.43L141.4 460.22L142.4 458.86L143.4 457.35L144.4 455.69L145.4 453.86L146.4 451.87L147.4 449.71L148.4 447.38L149.4 444.89L150.4 442.23L151.4 439.41L152.4 436.45L153.4 433.36L154.4 430.15L155.4 426.84L156.4 423.44L157.4 420L158.4 416.52L159.4 413.05L160.4 409.61L161.4 406.23L162.4 402.94L163.4 399.78L164.4 396.79L165.4 393.99L166.4 391.41L167.4 389.09L168.4 387.05L169.4 385.31L170.4 383.9L171.4 382.83L172.4 382.11L173.4 381.75L174.4 381.75L175.4 382.1L176.4 382.8L177.4 383.84L178.4 385.18L179.4 386.81L180.4 388.7L181.4 390.82L182.4 393.12L183.4 395.57L184.4 398.11L185.4 400.71L186.4 403.32L187.4 405.88L188.4 408.35L189.4 410.68L190.4 412.8L191.4 414.69L192.4 416.29L193.4 417.56L194.4 418.47L195.4 418.97L196.4 419.05L197.4 418.69L198.4 417.86L199.4 416.58L200.4 414.86L201.4 412.74L202.4 410.19L203.4 407.26L204.4 404L205.4 400.45L206.4 396.69L207.4 392.79L208.4 388.85L209.4 384.96L210.4 381.24L211.4 377.8L212.4 374.76L213.4 372.26L214.4 370.38L215.4 369.25L216.4 368.91L217.4 369.42L218.4 370.77L219.4 372.93L220.4 375.85L221.4 379.44L222.4 383.6L223.4 388.22L224.4 393.18L225.4 398.39L226.4 403.75L227.4 409.17L228.4 414.57L229.4 419.89L230.4 425.06L231.4 430.04L232.4 434.79L233.4 439.29L234.4 443.5L235.4 447.42L236.4 451.04L237.4 454.35L238.4 457.38L239.4 460.11L240.4 462.67L241.4 465.1L242.4 467.3L243.4 469.28L244.4 471.05L245.4 472.65L246.4 474.08L247.4 475.38L248.4 476.54L249.4 477.6L250.4 478.56L251.4 479.45L252.4 480.2L253.4 480.82L254.4 481.38L255.4 481.91L256.4 482.39L257.4 482.85L258.4 483.29L259.4 483.7L260.4 484.09L261.4 484.47L262.4 484.77L263.4 484.93L264.4 485.09L265.4 485.24L266.4 485.38L267.4 485.52L268.4 485.65L269.4 485.78L270.4 485.9L271.4 486.01L272.4 486.13L273.4 486.23L274.4 486.34L275.4 486.36L276.4 486.27L277.4 486.17L278.4 486.07L279.4 485.96L280.4 485.85L281.4 485.75L282.4 485.64L283.4 485.52L284.4 485.41L285.4 485.29L286.4 485.17L287.4 485.05L288.4 484.93L289.4 484.81L290.4 484.76L291.4 484.83L292.4 484.9L293.4 484.96L294.4 485.03L295.4 485.09L296.4 485.15L297.4 485.21L298.4 485.27L299.4 485.33L300.4 485.39L301.4 485.44L302.4 485.5L303.4 485.56L304.4 485.61L305.4 485.67L306.4 485.72L307.4 485.77L308.4 485.82L309.4 485.88L310.4 485.93L311.4 485.98L312.4 486.03L313.4 486.08L314.4 486.13L315.4 486.18L316.4 486.23L317.4 486.28L318.4 486.32L319.4 486.37L320.4 486.42L321.4 486.47L322.4 486.51L323.4 486.56L324.4 486.61L325.4 486.65L326.4 486.7L327.4 486.74L328.4 486.79L329.4 486.83L330.4 486.88L331.4 486.92L332.4 486.96L333.4 487.01L334.4 487.05L335.4 487.09L336.4 487.14L337.4 487.18" fill="none" stroke="#3030d4" stroke-width="4.2"/>
<path d="M61.4 467.18L62.4 467.25L63.4 467.31L64.4 467.37L65.4 467.43L66.4 467.49L67.4 467.55L68.4 467.61L69.4 467.67L70.4 467.73L71.4 467.79L72.4 467.85L73.4 467.9L74.4 467.96L75.4 468.02L76.4 468.07L77.4 468.13L78.4 468.19L79.4 468.24L80.4 468.3L81.4 468.35L82.4 468.4L83.4 468.46L84.4 468.51L85.4 468.56L86.4 468.61L87.4 468.66L88.4 468.71L89.4 468.76L90.4 468.81L91.4 468.86L92.4 468.9L93.4 468.95L94.4 468.99L95.4 469.04L96.4 469.08L97.4 469.13L98.4 469.17L99.4 469.21L100.4 469.25L101.4 469.29L102.4 469.32L103.4 469.36L104.4 469.39L105.4 469.43L106.4 469.46L107.4 469.49L108.4 469.52L109.4 469.55L110.4 469.57L111.4 469.6L112.4 469.62L113.4 469.65L114.4 469.66L115.4 469.68L116.4 469.7L117.4 469.71L118.4 469.72L119.4 469.73L120.4 469.74L121.4 469.75L122.4 469.75L123.4 469.75L124.4 469.74L125.4 469.74L126.4 469.73L127.4 469.72L128.4 469.7L129.4 469.68L130.4 469.66L131.4 469.63L132.4 469.6L133.4 469.56L134.4 469.52L135.4 469.48L136.4 469.43L137.4 469.37L138.4 469.31L139.4 469.24L140.4 469.17L141.4 469.09L142.4 469L143.4 468.91L144.4 468.81L145.4 468.7L146.4 468.58L147.4 468.45L148.4 468.31L149.4 468.16L150.4 468L151.4 467.83L152.4 467.64L153.4 467.44L154.4 467.23L155.4 467L156.4 466.76L157.4 466.5L158.4 466.22L159.4 465.92L160.4 465.6L161.4 465.26L162.4 464.9L163.4 464.51L164.4 464.09L165.4 463.65L166.4 463.17L167.4 462.67L168.4 462.13L169.4 461.55L170.4 460.94L171.4 460.28L172.4 459.59L173.4 458.85L174.4 458.06L175.4 457.23L176.4 456.35L177.4 455.42L178.4 454.43L179.4 453.4L180.4 452.31L181.4 451.18L182.4 449.99L183.4 448.77L184.4 447.51L185.4 446.21L186.4 444.9L187.4 443.57L188.4 442.26L189.4 440.96L190.4 439.7L191.4 438.5L192.4 437.39L193.4 436.37L194.4 435.49L195.4 434.75L196.4 434.18L197.4 433.8L198.4 433.61L199.4 433.63L200.4 433.84L201.4 434.26L202.4 434.86L203.4 435.64L204.4 436.56L205.4 437.62L206.4 438.79L207.4 440.04L208.4 441.34L209.4 442.67L210.4 444.01L211.4 445.34L212.4 446.62L213.4 447.86L214.4 449.01L215.4 450.09L216.4 451.06L217.4 451.91L218.4 452.64L219.4 453.23L220.4 453.68L221.4 453.97L222.4 454.1L223.4 454.08L224.4 453.88L225.4 453.53L226.4 453.01L227.4 452.34L228.4 451.52L229.4 450.56L230.4 449.48L231.4 448.31L232.4 447.05L233.4 445.74L234.4 444.4L235.4 443.06L236.4 441.76L237.4 440.52L238.4 439.37L239.4 438.35L240.4 437.49L241.4 436.8L242.4 436.32L243.4 436.07L244.4 436.04L245.4 436.27L246.4 436.74L247.4 437.46L248.4 438.43L249.4 439.62L250.4 441.02L251.4 442.61L252.4 444.36L253.4 446.26L254.4 448.26L255.4 450.35L256.4 452.49L257.4 454.65L258.4 456.8L259.4 458.93L260.4 461L261.4 463L262.4 464.91L263.4 466.72L264.4 468.42L265.4 470.01L266.4 471.47L267.4 472.81L268.4 474.03L269.4 475.13L270.4 476.13L271.4 477.01L272.4 477.8L273.4 478.5L274.4 479.12L275.4 479.67L276.4 480.15L277.4 480.58L278.4 480.95L279.4 481.28L280.4 481.58L281.4 481.84L282.4 482.08L283.4 482.29L284.4 482.49L285.4 482.67L286.4 482.84L287.4 483L288.4 483.15L289.4 483.29L290.4 483.43L291.4 483.56L292.4 483.69L293.4 483.82L294.4 483.94L295.4 484.06L296.4 484.18L297.4 484.29L298.4 484.41L299.4 484.52L300.4 484.63L301.4 484.75L302.4 484.86L303.4 484.97L304.4 485.07L305.4 485.18L306.4 485.29L307.4 485.39L308.4 485.5L309.4 485.6L310.4 485.71L311.4 485.81L312.4 485.91L313.4 486.01L314.4 486.12L315.4 486.22L316.4 486.32L317.4 486.41L318.4 486.51L319.4 486.61L320.4 486.71L321.4 486.81L322.4 486.9L323.4 487L324.4 487.09L325.4 487.19L326.4 487.29L327.4 487.38L328.4 487.47L329.4 487.57L330.4 487.66L331.4 487.75L332.4 487.85L333.4 487.94L334.4 488.03L335.4 488.12L336.4 488.21L337.4 488.3L338.3 489.38L61.4 468.2Z" fill="rgba(118,118,96,0.5)"/>
<path d="M61.4 467.18L62.4 467.25L63.4 467.31L64.4 467.37L65.4 467.43L66.4 467.49L67.4 467.55L68.4 467.61L69.4 467.67L70.4 467.73L71.4 467.79L72.4 467.85L73.4 467.9L74.4 467.96L75.4 468.02L76.4 468.07L77.4 468.13L78.4 468.19L79.4 468.24L80.4 468.3L81.4 468.35L82.4 468.4L83.4 468.46L84.4 468.51L85.4 468.56L86.4 468.61L87.4 468.66L88.4 468.71L89.4 468.76L90.4 468.81L91.4 468.86L92.4 468.9L93.4 468.95L94.4 468.99L95.4 469.04L96.4 469.08L97.4 469.13L98.4 469.17L99.4 469.21L100.4 469.25L101.4 469.29L102.4 469.32L103.4 469.36L104.4 469.39L105.4 469.43L106.4 469.46L107.4 469.49L108.4 469.52L109.4 469.55L110.4 469.57L111.4 469.6L112.4 469.62L113.4 469.65L114.4 469.66L115.4 469.68L116.4 469.7L117.4 469.71L118.4 469.72L119.4 469.73L120.4 469.74L121.4 469.75L122.4 469.75L123.4 469.75L124.4 469.74L125.4 469.74L126.4 469.73L127.4 469.72L128.4 469.7L129.4 469.68L130.4 469.66L131.4 469.63L132.4 469.6L133.4 469.56L134.4 469.52L135.4 469.48L136.4 469.43L137.4 469.37L138.4 469.31L139.4 469.24L140.4 469.17L141.4 469.09L142.4 469L143.4 468.91L144.4 468.81L145.4 468.7L146.4 468.58L147.4 468.45L148.4 468.31L149.4 468.16L150.4 468L151.4 467.83L152.4 467.64L153.4 467.44L154.4 467.23L155.4 467L156.4 466.76L157.4 466.5L158.4 466.22L159.4 465.92L160.4 465.6L161.4 465.26L162.4 464.9L163.4 464.51L164.4 464.09L165.4 463.65L166.4 463.17L167.4 462.67L168.4 462.13L169.4 461.55L170.4 460.94L171.4 460.28L172.4 459.59L173.4 458.85L174.4 458.06L175.4 457.23L176.4 456.35L177.4 455.42L178.4 454.43L179.4 453.4L180.4 452.31L181.4 451.18L182.4 449.99L183.4 448.77L184.4 447.51L185.4 446.21L186.4 444.9L187.4 443.57L188.4 442.26L189.4 440.96L190.4 439.7L191.4 438.5L192.4 437.39L193.4 436.37L194.4 435.49L195.4 434.75L196.4 434.18L197.4 433.8L198.4 433.61L199.4 433.63L200.4 433.84L201.4 434.26L202.4 434.86L203.4 435.64L204.4 436.56L205.4 437.62L206.4 438.79L207.4 440.04L208.4 441.34L209.4 442.67L210.4 444.01L211.4 445.34L212.4 446.62L213.4 447.86L214.4 449.01L215.4 450.09L216.4 451.06L217.4 451.91L218.4 452.64L219.4 453.23L220.4 453.68L221.4 453.97L222.4 454.1L223.4 454.08L224.4 453.88L225.4 453.53L226.4 453.01L227.4 452.34L228.4 451.52L229.4 450.56L230.4 449.48L231.4 448.31L232.4 447.05L233.4 445.74L234.4 444.4L235.4 443.06L236.4 441.76L237.4 440.52L238.4 439.37L239.4 438.35L240.4 437.49L241.4 436.8L242.4 436.32L243.4 436.07L244.4 436.04L245.4 436.27L246.4 436.74L247.4 437.46L248.4 438.43L249.4 439.62L250.4 441.02L251.4 442.61L252.4 444.36L253.4 446.26L254.4 448.26L255.4 450.35L256.4 452.49L257.4 454.65L258.4 456.8L259.4 458.93L260.4 461L261.4 463L262.4 464.91L263.4 466.72L264.4 468.42L265.4 470.01L266.4 471.47L267.4 472.81L268.4 474.03L269.4 475.13L270.4 476.13L271.4 477.01L272.4 477.8L273.4 478.5L274.4 479.12L275.4 479.67L276.4 480.15L277.4 480.58L278.4 480.95L279.4 481.28L280.4 481.58L281.4 481.84L282.4 482.08L283.4 482.29L284.4 482.49L285.4 482.67L286.4 482.84L287.4 483L288.4 483.15L289.4 483.29L290.4 483.43L291.4 483.56L292.4 483.69L293.4 483.82L294.4 483.94L295.4 484.06L296.4 484.18L297.4 484.29L298.4 484.41L299.4 484.52L300.4 484.63L301.4 484.75L302.4 484.86L303.4 484.97L304.4 485.07L305.4 485.18L306.4 485.29L307.4 485.39L308.4 485.5L309.4 485.6L310.4 485.71L311.4 485.81L312.4 485.91L313.4 486.01L314.4 486.12L315.4 486.22L316.4 486.32L317.4 486.41L318.4 486.51L319.4 486.61L320.4 486.71L321.4 486.81L322.4 486.9L323.4 487L324.4 487.09L325.4 487.19L326.4 487.29L327.4 487.38L328.4 487.47L329.4 487.57L330.4 487.66L331.4 487.75L332.4 487.85L333.4 487.94L334.4 488.03L335.4 488.12L336.4 488.21L337.4 488.3" fill="none" stroke="#807c36" stroke-width="4"/>
<path d="M61.4 469.3C64.5 469.12 73.57 468.55 80 468.2C86.43 467.85 93.33 467.47 100 467.2C106.67 466.93 113.33 466.77 120 466.6C126.67 466.43 132.33 466.27 140 466.2C147.67 466.13 158.5 466.03 166 466.2C173.5 466.37 180 467 185 467.2C190 467.4 192.5 467.55 196 467.4C199.5 467.25 203 466.5 206 466.3C209 466.1 211.33 465.87 214 466.2C216.67 466.53 219.33 467.42 222 468.3C224.67 469.18 227 470.72 230 471.5C233 472.28 236.67 473 240 473C243.33 473 247 472.23 250 471.5C253 470.77 255.83 469.15 258 468.6C260.17 468.05 261.33 467.8 263 468.2C264.67 468.6 266.17 469.7 268 471C269.83 472.3 271.83 474.42 274 476C276.17 477.58 278.33 479.4 281 480.5C283.67 481.6 286.83 482.15 290 482.6C293.17 483.05 295 483.03 300 483.2C305 483.37 313.62 483.43 320 483.6C326.38 483.77 335.25 484.1 338.3 484.2 L338.3 490.08 L61.4 468.9 Z" fill="#5ee0e0" fill-opacity="0.35"/>
<path d="M61.4 469.3C64.5 469.12 73.57 468.55 80 468.2C86.43 467.85 93.33 467.47 100 467.2C106.67 466.93 113.33 466.77 120 466.6C126.67 466.43 132.33 466.27 140 466.2C147.67 466.13 158.5 466.03 166 466.2C173.5 466.37 180 467 185 467.2C190 467.4 192.5 467.55 196 467.4C199.5 467.25 203 466.5 206 466.3C209 466.1 211.33 465.87 214 466.2C216.67 466.53 219.33 467.42 222 468.3C224.67 469.18 227 470.72 230 471.5C233 472.28 236.67 473 240 473C243.33 473 247 472.23 250 471.5C253 470.77 255.83 469.15 258 468.6C260.17 468.05 261.33 467.8 263 468.2C264.67 468.6 266.17 469.7 268 471C269.83 472.3 271.83 474.42 274 476C276.17 477.58 278.33 479.4 281 480.5C283.67 481.6 286.83 482.15 290 482.6C293.17 483.05 295 483.03 300 483.2C305 483.37 313.62 483.43 320 483.6C326.38 483.77 335.25 484.1 338.3 484.2" fill="none" stroke="#22e4e4" stroke-width="3.8"/>
<path d="M61.4 466 L338.3 487.18" stroke="#ff1010" stroke-width="3.2"/>
<path d="M61.4 463.28L63.55 463.2L65.75 463.2L67.97 463.96L70.16 463.39L72.36 463.51L74.56 463.35L76.77 463.69L78.97 463.58L81.16 463.27L83.37 463.44L85.56 463.15L87.77 463.53L89.97 463.41L92.17 462.72L94.4 462.95L96.62 462.79L98.83 462.5L101.07 462.81L103.3 463.04L105.5 462.25L107.73 462.38L109.86 462.25L112.32 461.99L114.8 461.34L117.39 461.65L119.86 460.95L122.21 461.08L124 460.02L126.07 458.98L128.31 458.33L130.51 457.58L132.29 456.35L133.72 454.91L135.54 453.65L137.37 452.4L138.99 450.89L140.83 450.07L142.08 447.96L143.33 445.61L144.29 443.08L146.13 441.24L146.91 439.24L147.69 437.08L148.51 434.94L149.04 432.7L149.52 430.46L150.08 428.01L151.34 425.79L152.11 423.41L152.98 421.07L153.64 418.95L153.86 416.68L154.75 414.63L155.7 412.59L156.55 410.39L156.6 407.94L157.37 405.71L157.96 403.44L159.13 401.35L159.41 398.98L159.63 396.59L160.52 394.39L160.9 391.57L162.36 389.1L162.32 386.11L163.92 383.98L164.3 381.49L165.43 379.12L165.71 376.61L166.81 374.66L168.06 371.78L172.89 368.41L178.56 369.53L180.89 372.1L183.13 373.57L185.18 376.02L186.83 378.32L188.71 379.01L189.11 380.61L191.54 380.48L193.14 378.76L194.57 376.42L195.48 374.62L195.57 372.21L196.33 370.03L197.81 368.12L198.7 365.99L199.08 363.68L200.26 361.45L200.75 358.96L201.34 356.52L202.71 354.35L203.39 351.93L203.78 349.42L205.04 347.27L205.79 344.99L205.93 342.49L206.68 340.15L207.27 337.77L208.15 335.47L209.08 333.19L209.65 330.34L211.57 327.78L214.92 325.06L217.91 327.99L219.86 330.16L220.93 332.55L222.1 334.59L222.77 336.95L223.38 339.48L224.23 341.83L224.12 344.42L225.21 346.71L225.5 349.2L226.31 351.56L227.16 353.92L227.17 356.47L228.44 358.72L228.17 361.34L229.23 363.65L229.79 366.08L230 368.32L230.81 370.41L231.23 372.6L231.7 374.77L232.47 376.88L232.27 379.2L233.23 381.61L234.26 384.01L234.33 386.63L235.73 388.94L235.77 391.55L236.96 393.78L237.21 396.29L238.22 398.59L238.93 400.97L239.32 403.35L240.82 405.4L241.57 407.81L242.71 410.07L243.43 412.22L244.66 414.05L245.92 416.17L246.78 418.05L248.89 419.25L250.07 421.57L253.52 423.57L255.08 426.1L255.99 428.32L257.44 430.19L258.63 432.37L259.83 434.76L260.77 437.18L262.01 439.44L263.31 441.81L264.3 444.14L265.87 446.05L266.19 448.61L267.23 451.46L268.25 454.29L269.54 456.9L270.13 459.75L271.07 462.35L271.69 464.61L272.65 466.84L273.39 469.11L274.58 471.04L275.76 473.08L277.18 474.54L278.86 476.75L280.57 479.09L282.75 479.73L284.89 481.12L287.2 481.76L289.66 482.44L292.28 482.61L294.77 483.78L297.44 483.53L299.97 484.45L302.26 483.89L304.45 484.4L306.63 485.16L308.91 484.56L311.09 485.26L313.32 485.34L315.53 485.72L317.8 485.2L319.97 486.11L322.31 485.65L324.57 486.18L326.88 486.08L329.13 486.66L331.4 487.06L333.76 486.41L336.03 486.86L338.3 487.53" fill="none" stroke="#000" stroke-width="3.4" stroke-linejoin="round"/>
<path d="M61.4 465.3C66.17 465.18 81.9 464.82 90 464.6C98.1 464.38 104.57 464.35 110 464C115.43 463.65 118.75 463.55 122.6 462.5C126.45 461.45 129.9 459.63 133.1 457.7C136.3 455.77 139.43 453.55 141.8 450.9C144.17 448.25 145.75 445.12 147.3 441.8C148.85 438.48 149.93 434.38 151.1 431C152.27 427.62 153.32 424.5 154.3 421.5C155.28 418.5 156.08 415.92 157 413C157.92 410.08 158.88 407 159.8 404C160.72 401 161.63 397.83 162.5 395C163.37 392.17 164.17 389.5 165 387C165.83 384.5 166.58 382.17 167.5 380C168.42 377.83 169.48 375.42 170.5 374C171.52 372.58 172.52 371.75 173.6 371.5C174.68 371.25 175.82 371.75 177 372.5C178.18 373.25 179.37 374.67 180.7 376C182.03 377.33 183.62 379.33 185 380.5C186.38 381.67 187.75 382.75 189 383C190.25 383.25 191.32 382.95 192.5 382C193.68 381.05 194.72 380.25 196.1 377.3C197.48 374.35 199.03 369.22 200.8 364.3C202.57 359.38 204.93 353.3 206.7 347.8C208.47 342.3 210.02 334.77 211.4 331.3C212.78 327.83 213.82 327.05 215 327C216.18 326.95 217.5 329.25 218.5 331C219.5 332.75 220 334 221 337.5C222 341 223.33 347.17 224.5 352C225.67 356.83 226.92 361.92 228 366.5C229.08 371.08 230 375.25 231 379.5C232 383.75 232.97 387.92 234 392C235.03 396.08 236.12 400.42 237.2 404C238.28 407.58 239.37 410.83 240.5 413.5C241.63 416.17 242.83 418.25 244 420C245.17 421.75 246.5 422.92 247.5 424C248.5 425.08 248.75 424.75 250 426.5C251.25 428.25 253.33 431.67 255 434.5C256.67 437.33 258.67 440.92 260 443.5C261.33 446.08 262.12 448 263 450C263.88 452 264.38 453.25 265.3 455.5C266.22 457.75 267.42 461.08 268.5 463.5C269.58 465.92 270.63 467.92 271.8 470C272.97 472.08 274.13 474.33 275.5 476C276.87 477.67 278.08 478.9 280 480C281.92 481.1 283.67 481.9 287 482.6C290.33 483.3 294.5 483.68 300 484.2C305.5 484.72 313.62 485.2 320 485.7C326.38 486.2 335.25 486.95 338.3 487.2" fill="none" stroke="#ff0000" stroke-width="3.4" stroke-linejoin="round"/></g>
<rect x="61.4" y="301.4" width="276.9" height="203.6" fill="none" stroke="#000" stroke-width="3.3"/>
<rect x="81.5" y="500.6" width="2.4" height="4.4"/>
<rect x="102.8" y="502.6" width="2.4" height="2.4"/>
<rect x="124.1" y="500.6" width="2.4" height="4.4"/>
<rect x="145.4" y="502.6" width="2.4" height="2.4"/>
<rect x="166.7" y="500.6" width="2.4" height="4.4"/>
<rect x="188" y="502.6" width="2.4" height="2.4"/>
<rect x="209.3" y="500.6" width="2.4" height="4.4"/>
<rect x="230.6" y="502.6" width="2.4" height="2.4"/>
<rect x="251.9" y="500.6" width="2.4" height="4.4"/>
<rect x="273.2" y="502.6" width="2.4" height="2.4"/>
<rect x="294.5" y="500.6" width="2.4" height="4.4"/>
<rect x="315.8" y="502.6" width="2.4" height="2.4"/>
<rect x="61.4" y="331.75" width="4.6" height="2.5"/>
<rect x="61.4" y="387.35" width="4.6" height="2.5"/>
<rect x="61.4" y="443.25" width="4.6" height="2.5"/>
<rect x="61.4" y="498.35" width="4.6" height="2.5"/>
<text x="82.7" y="521.4" font-size="13.9" textLength="16.2" lengthAdjust="spacingAndGlyphs" text-anchor="middle">42</text>
<text x="125.3" y="521.4" font-size="13.9" textLength="16.2" lengthAdjust="spacingAndGlyphs" text-anchor="middle">40</text>
<text x="167.9" y="521.4" font-size="13.9" textLength="16.2" lengthAdjust="spacingAndGlyphs" text-anchor="middle">38</text>
<text x="210.5" y="521.4" font-size="13.9" textLength="16.2" lengthAdjust="spacingAndGlyphs" text-anchor="middle">36</text>
<text x="253.1" y="521.4" font-size="13.9" textLength="16.2" lengthAdjust="spacingAndGlyphs" text-anchor="middle">34</text>
<text x="295.7" y="521.4" font-size="13.9" textLength="16.2" lengthAdjust="spacingAndGlyphs" text-anchor="middle">32</text>
<text x="338.3" y="521.4" font-size="13.9" textLength="16.2" lengthAdjust="spacingAndGlyphs" text-anchor="middle">30</text>
<text x="138.6" y="543.5" font-size="13.7" textLength="123.6" lengthAdjust="spacingAndGlyphs">Binding Energy (eV)</text>
<text x="49.8" y="469.3" font-size="14" textLength="120.1" lengthAdjust="spacingAndGlyphs" transform="rotate(-90 49.8 469.3)">Intensity (Arb.U.)</text>
<path d="M67.8 314.6 L88.8 314.6" stroke="#000" stroke-width="4.2" stroke-linecap="round"/>
<rect x="67.3" y="321.5" width="22" height="11.1" rx="2" fill="#3a3af4" stroke="#3434f0" stroke-width="3"/>
<rect x="71" y="324.6" width="15.9" height="5.9" fill="url(#dots)"/>
<rect x="67.6" y="338.1" width="21.4" height="9.5" rx="2" fill="#c8c890" stroke="#8f8f2a" stroke-width="3.6"/>
<rect x="71" y="339.8" width="15.3" height="5.6" fill="#d6d6a8"/>
<rect x="67.6" y="353.1" width="21.4" height="9.4" rx="2" fill="#60f0f0" stroke="#20f0f0" stroke-width="3.6"/>
<rect x="71" y="355.2" width="15.3" height="5.4" fill="url(#cdots)"/>
<rect x="67.7" y="367.3" width="21.2" height="9.2" fill="url(#grayg)" stroke="#ff7070" stroke-width="2.4"/>
<text x="91.1" y="317.7" font-size="9.2" textLength="66.8" lengthAdjust="spacingAndGlyphs">Measured Data</text>
<text x="91.2" y="330.7" font-size="9" textLength="60.2" lengthAdjust="spacingAndGlyphs">W 4f<tspan font-size="6.6" dy="2.8">7/2</tspan><tspan dy="-2.8"> in W </tspan><tspan font-size="6.2" dy="-3.9">6+</tspan></text>
<text x="91.2" y="345.6" font-size="9" textLength="60.2" lengthAdjust="spacingAndGlyphs">W 4f<tspan font-size="6.6" dy="2.8">7/2</tspan><tspan dy="-2.8"> in W </tspan><tspan font-size="6.2" dy="-3.9">5+</tspan></text>
<text x="91.2" y="358.6" font-size="9" textLength="60.2" lengthAdjust="spacingAndGlyphs">W 4f<tspan font-size="6.6" dy="2.8">7/2</tspan><tspan dy="-2.8"> in W </tspan><tspan font-size="6.2" dy="-3.9">4+</tspan></text>
<text x="91.1" y="374.4" font-size="9.2" textLength="48.3" lengthAdjust="spacingAndGlyphs">Fitted Data</text>
<text x="246.4" y="325.3" font-size="19.4" textLength="85.6" lengthAdjust="spacingAndGlyphs" fill="#141470">(b) 250<tspan font-weight="normal">°</tspan>C</text>
<text x="237.2" y="353.1" font-size="12.1" textLength="79.2" lengthAdjust="spacingAndGlyphs" fill="#1414dc">W<tspan font-size="7.4" dy="-4.4">6+</tspan><tspan dy="4.4"> 62.12 at.%</tspan></text>
<text x="237.2" y="367.6" font-size="12.1" textLength="59.4" lengthAdjust="spacingAndGlyphs" fill="#1414dc">at 35.74 eV</text>
<text x="70" y="401.6" font-size="12.1" textLength="80.8" lengthAdjust="spacingAndGlyphs" fill="#7a7a0c">W<tspan font-size="7.4" dy="-4.4">5+</tspan><tspan dy="4.4"> 28.62 at.%</tspan></text>
<text x="70" y="416.2" font-size="12.1" textLength="61.6" lengthAdjust="spacingAndGlyphs" fill="#7a7a0c">at 34.39 eV</text>
<text x="254.4" y="409.7" font-size="12.1" textLength="77.7" lengthAdjust="spacingAndGlyphs" fill="#14e0ea">W<tspan font-size="7.4" dy="-4.4">4+</tspan><tspan dy="4.4"> 9.26 at. %</tspan></text>
<text x="254.4" y="423.8" font-size="12.1" textLength="61.4" lengthAdjust="spacingAndGlyphs" fill="#14e0ea">at 33.35 eV</text>
<path d="M205.6 418.4 C222 413 236 403 246 390" fill="none" stroke="#1414e0" stroke-width="3.2"/><path d="M256 374.2L243.6 386.6L253.4 391.8Z" fill="#1414e0"/>
<path d="M198.7 452 C168 449 138 443 114 431.5" fill="none" stroke="#7a7a0c" stroke-width="3.3"/><path d="M102.6 420.3L107.6 436.4L119.6 428.4Z" fill="#7a7a0c"/>
<path d="M262 477 C285 470 300 458 306 440" fill="none" stroke="#18e4ec" stroke-width="3.2"/><path d="M310 424.5L300.6 440.5L314.6 441.2Z" fill="#18e4ec"/>
</svg></body></html>
